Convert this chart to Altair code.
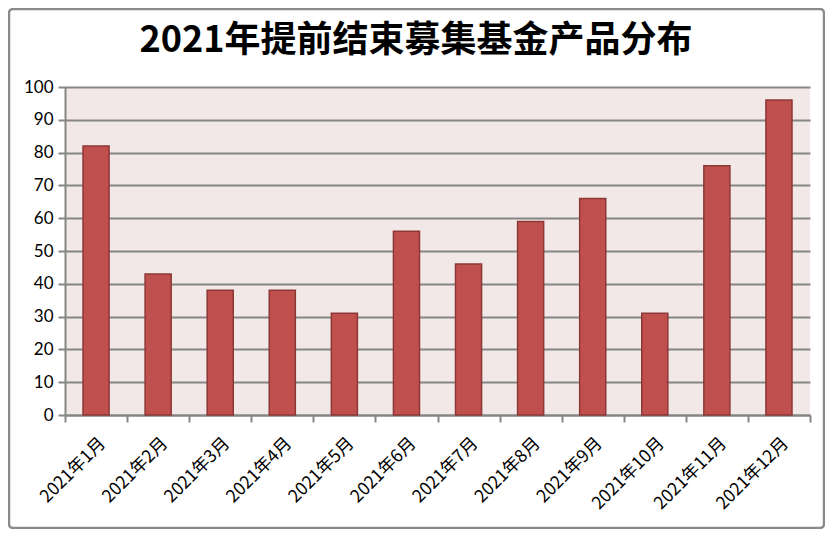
import altair as alt
import pandas as pd

months = ["2021年1月", "2021年2月", "2021年3月", "2021年4月", "2021年5月", "2021年6月",
          "2021年7月", "2021年8月", "2021年9月", "2021年10月", "2021年11月", "2021年12月"]
counts = [82, 43, 38, 38, 31, 56, 46, 59, 66, 31, 76, 96]
y_ticks = [0, 10, 20, 30, 40, 50, 60, 70, 80, 90, 100]
title_text = "2021年提前结束募集基金产品分布"

df = pd.DataFrame({"month": months, "count": counts})

GRID = "#868686"
LABEL_FONT = "Lato"
CJK = "Noto Sans CJK SC"

bars = alt.Chart(df).mark_bar(
    width=alt.RelativeBandSize(0.42),
    color="#C0504D",
    stroke="#8C3836",
    strokeWidth=1.5,
).encode(
    x=alt.X("month:N", sort=months, title=None,
            scale=alt.Scale(paddingInner=0, paddingOuter=0),
            axis=alt.Axis(labelAngle=-45, labelFont=CJK, labelFontSize=17.5,
                          labelColor="#000000", tickBand="extent", tickSize=7,
                          tickColor=GRID, tickWidth=2, domainColor=GRID,
                          domainWidth=2, labelPadding=12, grid=False)),
    y=alt.Y("count:Q", title=None,
            scale=alt.Scale(domain=[0, 100], nice=False),
            axis=alt.Axis(values=y_ticks, labelFont=LABEL_FONT, labelFontSize=17,
                          labelColor="#000000", tickSize=7, tickColor=GRID,
                          tickWidth=2, domainColor=GRID, domainWidth=2,
                          gridColor=GRID, gridWidth=2, labelPadding=5)),
)

border = alt.Chart(pd.DataFrame({"a": [0]})).mark_rect(
    fill=None, stroke="#8A8A8A", strokeWidth=2.5, cornerRadius=4
).encode(
    x=alt.value(-56), x2=alt.value(759), y=alt.value(-78), y2=alt.value(441)
)

title = alt.Chart(pd.DataFrame({"t": [title_text]})).mark_text(
    font=CJK, fontSize=36, fontWeight="bold", color="#000000",
    align="center", baseline="alphabetic"
).encode(
    text="t:N", x=alt.value(351), y=alt.value(-35)
)

chart = alt.layer(border, bars, title).properties(
    width=745,
    height=328,
    autosize=alt.AutoSizeParams(type="none"),
    padding={"left": 57, "top": 79, "right": 15, "bottom": 114},
    background="#FFFFFF",
).configure_view(
    fill="#F2E8E8", stroke=None
)

chart.save("out.html", embed_options={"renderer": "svg", "actions": False})
